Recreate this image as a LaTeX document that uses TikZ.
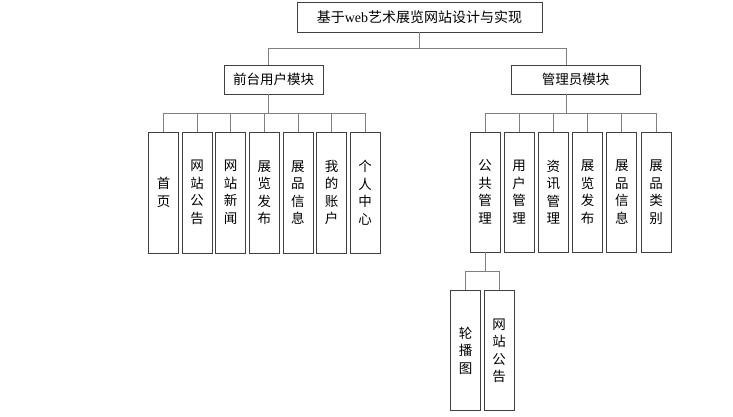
\documentclass[tikz,border=0pt]{standalone}
\usepackage{fontspec}
\setmainfont{Liberation Serif}
\newfontfamily\cjk{Noto Sans CJK SC}
\begin{document}
\begin{tikzpicture}[x=1pt,y=-1pt]
\tikzset{box/.style={draw=black!75,line width=0.8pt,inner sep=0pt,font=\cjk\fontsize{13.5}{17.5}\selectfont},
  leaf/.style={box,minimum width=30pt,minimum height=121pt,align=center},
  wire/.style={draw=black!50,line width=0.8pt}}
\useasboundingbox (0,0) rectangle (733,417);
\node (root) at (419.5,17) [box,minimum width=245pt,minimum height=30pt,font=\cjk\fontsize{14}{17}\selectfont] {基于{\rmfamily web}艺术展览网站设计与实现};
\node (front) at (273.5,79.5) [box,minimum width=99pt,minimum height=29pt] {前台用户模块};
\node (admin) at (575.5,79.5) [box,minimum width=129pt,minimum height=29pt] {管理员模块};
% front leaves
\node (f1) at (163.5,192.5) [leaf] {首\\页};
\node (f2) at (197.1,192.5) [leaf] {网\\站\\公\\告};
\node (f3) at (230.7,192.5) [leaf] {网\\站\\新\\闻};
\node (f4) at (264.3,192.5) [leaf] {展\\览\\发\\布};
\node (f5) at (297.9,192.5) [leaf] {展\\品\\信\\息};
\node (f6) at (331.5,192.5) [leaf] {我\\的\\账\\户};
\node (f7) at (365.1,192.5) [leaf] {个\\人\\中\\心};
% admin leaves
\node (a1) at (485,192) [leaf,minimum height=120pt] {公\\共\\管\\理};
\node (a2) at (519.2,192) [leaf,minimum height=120pt] {用\\户\\管\\理};
\node (a3) at (553.4,192) [leaf,minimum height=120pt] {资\\讯\\管\\理};
\node (a4) at (587.6,192) [leaf,minimum height=120pt] {展\\览\\发\\布};
\node (a5) at (621.8,192) [leaf,minimum height=120pt] {展\\品\\信\\息};
\node (a6) at (656,192) [leaf,minimum height=120pt] {展\\品\\类\\别};
\node (p1) at (465.5,350.7) [leaf,minimum height=120pt] {轮\\播\\图};
\node (p2) at (499,350.7) [leaf,minimum height=120pt] {网\\站\\公\\告};
\coordinate (b0) at (419.5,48);
\coordinate (b1) at (268,113);
\coordinate (b2) at (566,113);
\coordinate (b3) at (485,271.7);
\draw[wire] (root.south) -- (b0) -| ([xshift=-5.5pt]front.north) (b0) -| ([xshift=-9.5pt]admin.north);
\draw[wire] ([xshift=-5.5pt]front.south) -- (b1) -| (f1.north) (b1) -| (f7.north)
  (f2.north) -- (f2.north|-b1) (f3.north) -- (f3.north|-b1) (f4.north) -- (f4.north|-b1)
  (f5.north) -- (f5.north|-b1) (f6.north) -- (f6.north|-b1);
\draw[wire] ([xshift=-9.5pt]admin.south) -- (b2) -| (a1.north) (b2) -| (a6.north)
  (a2.north) -- (a2.north|-b2) (a3.north) -- (a3.north|-b2) (a4.north) -- (a4.north|-b2)
  (a5.north) -- (a5.north|-b2);
\draw[wire] (a1.south) -- (b3) -| (p1.north) (b3) -| (p2.north);
\end{tikzpicture}
\end{document}
